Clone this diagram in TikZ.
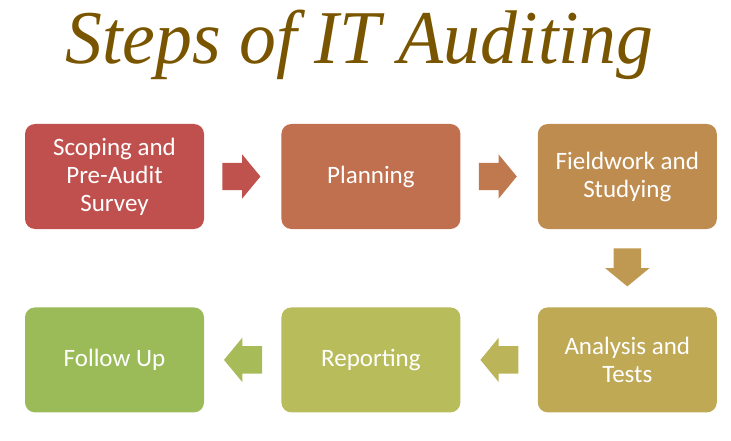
\documentclass[tikz,border=0pt]{standalone}
\usepackage{fontspec}
\setmainfont{Carlito}
\newfontfamily\titlefont{Liberation Serif}
\usetikzlibrary{positioning, shapes.arrows}

\definecolor{titlebrown}{HTML}{7A5500}
\definecolor{cA}{HTML}{C0504D}
\definecolor{cB}{HTML}{C0704F}
\definecolor{cC}{HTML}{BF8C50}
\definecolor{cD}{HTML}{BFA955}
\definecolor{cE}{HTML}{B8BC5A}
\definecolor{cF}{HTML}{9BBB59}

\begin{document}
\begin{tikzpicture}[x=1pt, y=-1pt,
stepbox/.style={rectangle, rounded corners=10pt, fill=#1, text=white, minimum width=179pt, minimum height=105pt, align=center, font=\fontsize{25}{28}\selectfont},
blockarrow/.style={single arrow, fill=#1, inner xsep=0pt, inner ysep=13.5pt, minimum height=38pt, single arrow head extend=8.5pt, single arrow tip angle=101},
node distance=78pt and 77pt
]
\useasboundingbox (0,0) rectangle (731,441);

%Title
\node[anchor=base, text=titlebrown, font=\titlefont\itshape\fontsize{76}{80}\selectfont] (Title) at (359,64) {\scalebox{0.97}[1]{Steps of IT Auditing}};

%Nodes
\node[stepbox=cA]  (S1)  at (114.5,176.5)  {Scoping and\\Pre-Audit\\Survey};
\node[stepbox=cB]  (S2)  [right=of S1]     {Planning};
\node[stepbox=cC]  (S3)  [right=of S2]     {Fieldwork and\\Studying};
\node[stepbox=cD]  (S4)  [below=of S3]     {Analysis and\\Tests};
\node[stepbox=cE]  (S5)  [left=of S4]      {Reporting};
\node[stepbox=cF]  (S6)  [left=of S5]      {Follow Up};

%Arrows
\node[blockarrow=cA!95!cB, right=18pt of S1, anchor=tail]               (A1) {};
\node[blockarrow=cB!70!cC, right=18pt of S2, anchor=tail]               (A2) {};
\node[blockarrow=cC!60!cD, rotate=-90, below=19pt of S3, anchor=tail]   (A3) {};
\node[blockarrow=cD!40!cE, rotate=180, left=19pt of S4, anchor=tail]    (A4) {};
\node[blockarrow=cE!40!cF, rotate=180, left=19pt of S5, anchor=tail]    (A5) {};
\end{tikzpicture}
\end{document}
